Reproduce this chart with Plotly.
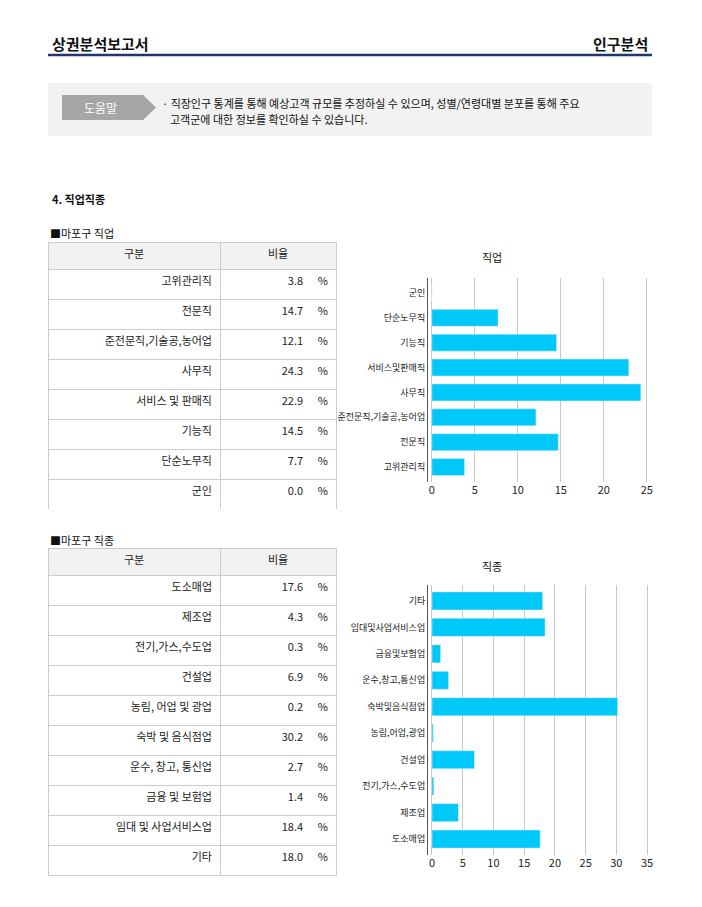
import plotly.graph_objects as go

W, H = 686, 891
OFF = 8
job_cats = ["고위관리직", "전문직", "준전문직,기술공,농어업", "사무직", "서비스 및 판매직", "기능직", "단순노무직", "군인"]
job_chart_cats = ["고위관리직", "전문직", "준전문직,기술공,농어업", "사무직", "서비스및판매직", "기능직", "단순노무직", "군인"]
job_vals = [3.8, 14.7, 12.1, 24.3, 22.9, 14.5, 7.7, 0.0]

ind_cats = ["도소매업", "제조업", "전기,가스,수도업", "건설업", "농림, 어업 및 광업", "숙박 및 음식점업", "운수, 창고, 통신업", "금융 및 보험업", "임대 및 사업서비스업", "기타"]
ind_chart_cats = ["도소매업", "제조업", "전기,가스,수도업", "건설업", "농림,어업,광업", "숙박및음식점업", "운수,창고,통신업", "금융및보험업", "임대및사업서비스업", "기타"]
ind_vals = [17.6, 4.3, 0.3, 6.9, 0.2, 30.2, 2.7, 1.4, 18.4, 18.0]

FONT = "Noto Sans CJK KR"
def px(x): return (x - OFF) / W
def py(y): return 1 - (y - OFF) / H

fig = go.Figure()

def add_table(cats, vals, y0, y1):
    fig.add_trace(go.Table(
        domain=dict(x=[px(48), px(336)], y=[py(y1), py(y0)]),
        columnwidth=[172, 116],
        header=dict(values=["구분", "비율"], fill_color="#f2f2f2", line_color="#cccccc",
                    align="center", height=27, font=dict(family=FONT, size=11, color="#222")),
        cells=dict(values=[cats, [f"{v:.1f}      %" for v in vals]], fill_color="white",
                   line_color="#cccccc", align="right", height=30,
                   font=dict(family=FONT, size=11, color="#222")),
    ))

add_table(job_cats, job_vals, 242, 510)
add_table(ind_cats, ind_vals, 548, 880)

bar_color = "#00c8f8"
fig.add_trace(go.Bar(x=job_vals, y=job_chart_cats, orientation="h", marker_color=bar_color,
                     width=0.68, xaxis="x", yaxis="y", showlegend=False))
fig.add_trace(go.Bar(x=ind_vals, y=ind_chart_cats, orientation="h", marker_color=bar_color,
                     width=0.68, xaxis="x2", yaxis="y2", showlegend=False))

axfont = dict(family=FONT, size=9, color="#222")
xcommon = dict(showgrid=True, gridcolor="#c8c8c8", zeroline=False, tickfont=dict(family=FONT, size=11, color="#222"),
               showline=False, ticks="", fixedrange=True)
ycommon = dict(showline=True, linecolor="#555", linewidth=1, tickfont=axfont, ticks="", showgrid=False)

fig.update_layout(
    width=W, height=H, margin=dict(l=0, r=0, t=0, b=0),
    paper_bgcolor="white", plot_bgcolor="white", bargap=0.3,
    xaxis=dict(domain=[px(428), px(652)], range=[-0.45, 25.6], dtick=5, anchor="y", **xcommon),
    yaxis=dict(domain=[py(482), py(278)], anchor="x", categoryorder="array", categoryarray=job_chart_cats,
               range=[-0.6, 7.6], **ycommon),
    xaxis2=dict(domain=[px(428), px(652)], range=[-0.65, 35.8], dtick=5, anchor="y2", **xcommon),
    yaxis2=dict(domain=[py(855), py(585)], anchor="x2", categoryorder="array", categoryarray=ind_chart_cats,
                range=[-0.6, 9.6], **ycommon),
    font=dict(family=FONT),
)

shapes = [
    dict(type="line", xref="paper", yref="paper", x0=px(48), x1=px(652), y0=py(55), y1=py(55),
         line=dict(color="#1f3864", width=2.5)),
    dict(type="rect", xref="paper", yref="paper", x0=px(48), x1=px(652), y0=py(136), y1=py(83),
         fillcolor="#f2f2f2", line=dict(width=0)),
    dict(type="path", xref="paper", yref="paper",
         path=f"M {px(62)},{py(95)} L {px(143)},{py(95)} L {px(156)},{py(107.5)} L {px(143)},{py(120)} L {px(62)},{py(120)} Z",
         fillcolor="#a6a6a6", line=dict(width=0)),
]
fig.update_layout(shapes=shapes)

def ann(x, y, text, size=11, bold=False, xanchor="left", color="#111"):
    t = f"<b>{text}</b>" if bold else text
    fig.add_annotation(x=px(x), y=py(y), xref="paper", yref="paper", text=t, showarrow=False,
                       xanchor=xanchor, yanchor="middle", font=dict(family=FONT, size=size, color=color))

ann(50, 43, "상권분석보고서", 15, True)
ann(650, 43, "인구분석", 15, True, "right")
ann(100, 107.5, "도움말", 12, False, "center", "white")
ann(160, 103, "· 직장인구 통계를 통해 예상고객 규모를 추정하실 수 있으며, 성별/연령대별 분포를 통해 주요", 11)
ann(168, 119, "고객군에 대한 정보를 확인하실 수 있습니다.", 11)
ann(50, 199, "4. 직업직종", 11, True)
ann(48, 233, "■마포구 직업", 11)
ann(48, 540, "■마포구 직종", 11)
ann(492, 257, "직업", 11, False, "center")
ann(492, 566, "직종", 11, False, "center")

fig.write_html("out.html")
